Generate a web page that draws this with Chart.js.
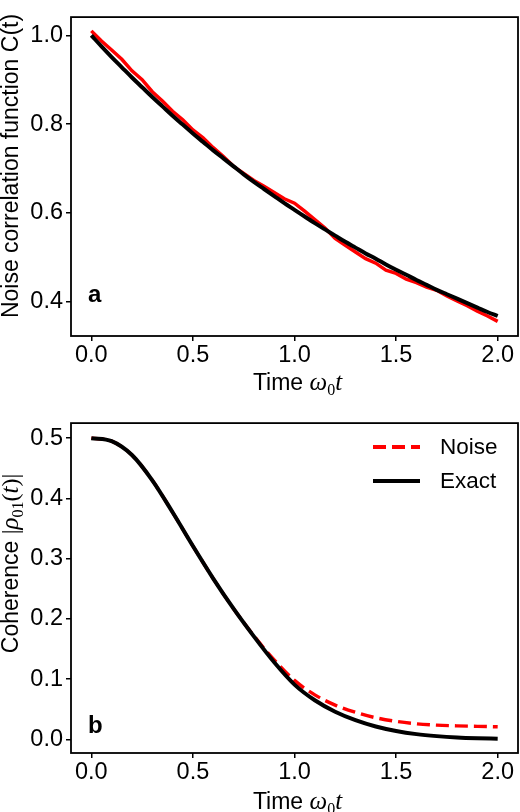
<!DOCTYPE html>
<html>
<head>
<meta charset="utf-8">
<script src="https://cdn.jsdelivr.net/npm/chart.js@4.4.0/dist/chart.umd.min.js"></script>
<style>
html, body { margin: 0; padding: 0; background: #fff; }
.panel { position: relative; width: 520px; height: 406px; }
</style>
</head>
<body>
<div class="panel"><canvas id="chartA"></canvas></div>
<div class="panel"><canvas id="chartB"></canvas></div>
<script>
// panel a : noise correlation function
var timeA = [0, 0.05, 0.1, 0.15, 0.2, 0.25, 0.3, 0.35, 0.4, 0.45, 0.5, 0.55, 0.6, 0.65, 0.7, 0.75, 0.8, 0.85, 0.9, 0.95,
    1.0, 1.05, 1.1, 1.15, 1.2, 1.25, 1.3, 1.35, 1.4, 1.45, 1.5, 1.55, 1.6, 1.65, 1.7, 1.75, 1.8, 1.85, 1.9, 1.95, 2.0];
var exactA = [1.000, 0.975, 0.951, 0.928, 0.905, 0.883, 0.861, 0.840, 0.819, 0.799, 0.779, 0.760, 0.741, 0.723, 0.705, 0.687, 0.670, 0.654, 0.638, 0.622,
    0.607, 0.592, 0.577, 0.563, 0.549, 0.535, 0.522, 0.509, 0.497, 0.484, 0.472, 0.461, 0.449, 0.438, 0.427, 0.417, 0.407, 0.397, 0.387, 0.377, 0.368];
var noiseA = [1.010, 0.987, 0.967, 0.946, 0.920, 0.900, 0.873, 0.852, 0.829, 0.810, 0.787, 0.769, 0.747, 0.727, 0.705, 0.689, 0.673, 0.660, 0.646, 0.632,
    0.622, 0.604, 0.585, 0.566, 0.543, 0.527, 0.512, 0.497, 0.487, 0.471, 0.464, 0.451, 0.443, 0.433, 0.426, 0.413, 0.402, 0.391, 0.379, 0.368, 0.356];
var xTicks = [0, 0.5, 1.0, 1.5, 2.0];
var yTicksA = [0.4, 0.6, 0.8, 1.0];

// panel b : coherence
var timeB = [0, 0.1, 0.2, 0.3, 0.4, 0.5, 0.6, 0.7, 0.8, 0.9, 1.0, 1.1, 1.2, 1.3, 1.4, 1.5, 1.6, 1.7, 1.8, 1.9, 2.0];
var exactB = [0.500, 0.495, 0.472, 0.430, 0.377, 0.321, 0.267, 0.217, 0.171, 0.128, 0.091, 0.065, 0.046, 0.032, 0.0215, 0.014, 0.0088, 0.0055, 0.0033, 0.002, 0.0012];
var noiseB = [0.500, 0.495, 0.472, 0.430, 0.377, 0.321, 0.267, 0.217, 0.172, 0.132, 0.098, 0.074, 0.057, 0.045, 0.036, 0.030, 0.026, 0.0237, 0.0225, 0.0217, 0.021];
var yTicksB = [0, 0.1, 0.2, 0.3, 0.4, 0.5];
var legendNames = ['Noise', 'Exact'];

var SANS = '"Liberation Sans", Arial, sans-serif';
var SERIF = '"Liberation Serif", "DejaVu Serif", serif';
var RED = '#ff0000';

function pts(xs, ys) {
    return xs.map(function (x, i) { return { x: x, y: ys[i] }; });
}

// text made of runs: [text, font, dy]
function drawRuns(ctx, runs, cx, cy, angle) {
    var w = 0;
    runs.forEach(function (r) { ctx.font = r[1]; w += ctx.measureText(r[0]).width; });
    ctx.save();
    ctx.translate(cx, cy);
    ctx.rotate(angle);
    ctx.fillStyle = '#000';
    ctx.textBaseline = 'alphabetic';
    ctx.textAlign = 'left';
    var x = -w / 2;
    runs.forEach(function (r) {
        ctx.font = r[1];
        ctx.fillText(r[0], x, 8 + (r[2] || 0));
        x += ctx.measureText(r[0]).width;
    });
    ctx.restore();
}

var timeTitle = [
    ['Time ', '23px ' + SANS],
    ['\u03c9', 'italic 25px ' + SERIF],
    ['0', '16px ' + SERIF, 5],
    ['t', 'italic 25px ' + SERIF]
];

var decor = {
    id: 'decor',
    afterDraw: function (chart, args, o) {
        var ctx = chart.ctx, ca = chart.chartArea;
        ctx.save();
        ctx.strokeStyle = '#000';
        ctx.lineWidth = 1.8;
        ctx.strokeRect(ca.left, ca.top, ca.right - ca.left, ca.bottom - ca.top);
        ctx.fillStyle = '#000';
        ctx.font = 'bold 24px ' + SANS;
        ctx.textBaseline = 'alphabetic';
        ctx.fillText(o.letter, o.letterX, o.letterY);
        if (o.legend) {
            var ds = chart.data.datasets;
            var rows = [[ds[1], 41, legendNames[0]], [ds[0], 75, legendNames[1]]];
            rows.forEach(function (r) {
                ctx.beginPath();
                ctx.strokeStyle = r[0].borderColor;
                ctx.lineWidth = 4;
                ctx.setLineDash(r[0].borderDash || []);
                ctx.moveTo(373, r[1]);
                ctx.lineTo(420, r[1]);
                ctx.stroke();
                ctx.setLineDash([]);
                ctx.font = '22.5px ' + SANS;
                ctx.textBaseline = 'middle';
                ctx.fillText(r[2], 440, r[1] + 1);
            });
        }
        ctx.restore();
        drawRuns(ctx, timeTitle, (ca.left + ca.right) / 2 + 3, ca.bottom + o.xTitleOff, 0);
        drawRuns(ctx, o.yTitle, 9.5, o.yTitleY, -Math.PI / 2);
    }
};

function axes(yMin, yMax, yTicks, xHeight) {
    var tickFont = { family: SANS, size: 23.5 };
    return {
        x: {
            type: 'linear', min: -0.1, max: 2.1,
            afterBuildTicks: function (s) { s.ticks = xTicks.map(function (v) { return { value: v }; }); },
            afterFit: function (s) { s.height = xHeight; },
            grid: { display: true, drawOnChartArea: false, drawTicks: true, tickLength: 5, color: '#000', lineWidth: 1.5 },
            border: { display: false },
            ticks: { color: '#000', font: tickFont, padding: 0, maxRotation: 0,
                callback: function (v) { return v.toFixed(1); } }
        },
        y: {
            type: 'linear', min: yMin, max: yMax,
            afterBuildTicks: function (s) { s.ticks = yTicks.map(function (v) { return { value: v }; }); },
            afterFit: function (s) { s.width = 71; },
            grid: { display: true, drawOnChartArea: false, drawTicks: true, tickLength: 5, color: '#000', lineWidth: 1.5 },
            border: { display: false },
            ticks: { color: '#000', font: tickFont, padding: 3,
                callback: function (v) { return v.toFixed(1); } }
        }
    };
}

new Chart(document.getElementById('chartA'), {
    type: 'line',
    data: {
        datasets: [{
            label: 'Exact',
            data: pts(timeA, exactA),
            borderColor: '#000', borderWidth: 4,
            pointRadius: 0, cubicInterpolationMode: 'monotone'
        }, {
            label: 'Noise',
            data: pts(timeA, noiseA),
            borderColor: RED, borderWidth: 3.5,
            pointRadius: 0, tension: 0
        }]
    },
    options: {
        responsive: true, maintainAspectRatio: false, animation: false,
        layout: { padding: { top: 1, right: 2, bottom: 0, left: 0 } },
        scales: axes(0.323, 1.041, yTicksA, 70),
        plugins: {
            legend: { display: false }, tooltip: { enabled: false },
            decor: {
                letter: 'a', letterX: 88, letterY: 302, legend: false, xTitleOff: 46,
                yTitleY: 166,
                yTitle: [['Noise correlation function C(t)', '23px ' + SANS]]
            }
        }
    },
    plugins: [decor]
});

new Chart(document.getElementById('chartB'), {
    type: 'line',
    data: {
        datasets: [{
            label: 'Exact',
            data: pts(timeB, exactB),
            borderColor: '#000', borderWidth: 4,
            pointRadius: 0, cubicInterpolationMode: 'monotone'
        }, {
            label: 'Noise',
            data: pts(timeB, noiseB),
            borderColor: RED, borderWidth: 3.4, borderDash: [13, 6],
            pointRadius: 0, cubicInterpolationMode: 'monotone'
        }]
    },
    options: {
        responsive: true, maintainAspectRatio: false, animation: false,
        layout: { padding: { top: 12, right: 2, bottom: 0, left: 0 } },
        scales: axes(-0.0225, 0.525, yTicksB, 59),
        plugins: {
            legend: { display: false }, tooltip: { enabled: false },
            decor: {
                letter: 'b', letterX: 88, letterY: 327, legend: true, xTitleOff: 48,
                yTitleY: 157.5,
                yTitle: [
                    ['Coherence ', '23px ' + SANS],
                    ['|', '24px ' + SERIF],
                    ['\u03c1', 'italic 25px ' + SERIF],
                    ['01', '16px ' + SERIF, 5],
                    ['(', '24px ' + SERIF],
                    ['t', 'italic 25px ' + SERIF],
                    [')|', '24px ' + SERIF]
                ]
            }
        }
    },
    plugins: [decor]
});
</script>
</body>
</html>
